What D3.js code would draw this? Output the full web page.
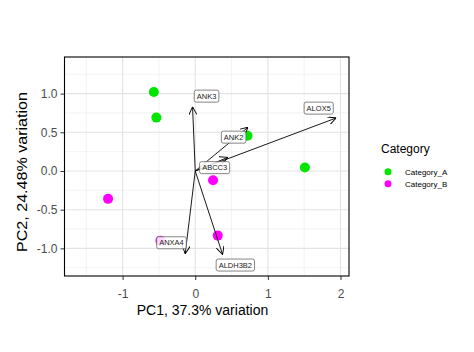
<!DOCTYPE html>
<html>
<head>
  <meta charset="utf-8">
  <script src="https://d3js.org/d3.v7.min.js"></script>
  <style>
    body { margin: 0; background: #fff; }
    text { font-family: "Liberation Sans", Arial, sans-serif; }
  </style>
</head>
<body>
  <div id="container"></div>
  <script>
    // sample scores
    var category = ['Category_A', 'Category_A', 'Category_A', 'Category_A',
                    'Category_B', 'Category_B', 'Category_B', 'Category_B'];
    var pc1 = [-0.57, -0.535, 0.72, 1.51, -1.2, 0.245, -0.48, 0.31];
    var pc2 = [1.02, 0.69, 0.455, 0.045, -0.36, -0.12, -0.9, -0.835];

    // loadings
    var genes = ['ANK3', 'ALOX5', 'ANK2', 'ABCC3', 'ANXA4', 'ALDH3B2'];
    var loadX = [-0.037, 1.94, 0.727, 0.45, -0.138, 0.377];
    var loadY = [0.83, 0.685, 0.565, 0.177, -1.07, -1.08];
    // where the repelled labels ended up (data units)
    var labelX = [0.156, 1.70, 0.529, 0.267, -0.327, 0.552];
    var labelY = [0.969, 0.814, 0.439, 0.045, -0.926, -1.214];

    var xTicks = [-1, 0, 1, 2];
    var yTicks = [-1, -0.5, 0, 0.5, 1];
    var legendCats = ['Category_A', 'Category_B'];
    var colours = ['#00e600', '#ff00ff'];

    var W = 474, H = 352;
    var margin = {top: 57, right: 125, bottom: 76, left: 64.5};
    var width = W - margin.left - margin.right,
        height = H - margin.top - margin.bottom;

    var svg = d3.select('#container').append('svg')
      .attr('width', W).attr('height', H);

    var x = d3.scaleLinear().domain([-1.80, 2.117]).range([0, width]);
    var y = d3.scaleLinear().domain([-1.357, 1.473]).range([height, 0]);
    var colour = d3.scaleOrdinal().domain(legendCats).range(colours);
    var hy = s => s.replace('\u2212', '-');

    var g = svg.append('g').attr('transform', `translate(${margin.left},${margin.top})`);

    // minor grid
    var xMinor = [-1.5, -0.5, 0.5, 1.5];
    var yMinor = [-1.25, -0.75, -0.25, 0.25, 0.75, 1.25];
    g.selectAll('.xminor').data(xMinor).enter().append('line')
      .attr('x1', d => x(d)).attr('x2', d => x(d)).attr('y1', 0).attr('y2', height)
      .attr('stroke', '#ebebeb').attr('stroke-width', 0.6);
    g.selectAll('.yminor').data(yMinor).enter().append('line')
      .attr('y1', d => y(d)).attr('y2', d => y(d)).attr('x1', 0).attr('x2', width)
      .attr('stroke', '#ebebeb').attr('stroke-width', 0.6);
    // major grid
    g.selectAll('.xmajor').data(xTicks).enter().append('line')
      .attr('x1', d => x(d)).attr('x2', d => x(d)).attr('y1', 0).attr('y2', height)
      .attr('stroke', '#e3e3e3').attr('stroke-width', 1.1);
    g.selectAll('.ymajor').data(yTicks).enter().append('line')
      .attr('y1', d => y(d)).attr('y2', d => y(d)).attr('x1', 0).attr('x2', width)
      .attr('stroke', '#e3e3e3').attr('stroke-width', 1.1);

    // axes
    var xAxis = g.append('g').attr('transform', `translate(0,${height})`)
      .call(d3.axisBottom(x).tickValues(xTicks).tickSize(4).tickPadding(9)
        .tickFormat(d => hy(d3.format('d')(d))));
    var yAxis = g.append('g')
      .call(d3.axisLeft(y).tickValues(yTicks).tickSize(4).tickPadding(3)
        .tickFormat(d => hy(d3.format('.1f')(d))));
    [xAxis, yAxis].forEach(function (a) {
      a.select('.domain').remove();
      a.selectAll('line').attr('stroke', '#333');
      a.selectAll('text').attr('fill', '#4d4d4d').style('font-size', '12px')
        .style('font-family', '"Liberation Sans", Arial, sans-serif');
    });

    // points
    g.selectAll('.pt').data(pc1).enter().append('circle')
      .attr('cx', d => x(d)).attr('cy', (d, i) => y(pc2[i]))
      .attr('r', 5).attr('fill', (d, i) => colour(category[i]));

    // arrows
    svg.append('defs').append('marker')
      .attr('id', 'arr').attr('viewBox', '0 0 10 10')
      .attr('refX', 10).attr('refY', 5)
      .attr('markerWidth', 8).attr('markerHeight', 8)
      .attr('markerUnits', 'userSpaceOnUse')
      .attr('orient', 'auto')
      .append('path').attr('d', 'M0,0 L10,5 L0,10')
      .attr('fill', 'none').attr('stroke', 'black').attr('stroke-width', 1.2);

    g.selectAll('.arrow').data(genes).enter().append('line')
      .attr('x1', x(0)).attr('y1', y(0))
      .attr('x2', (d, i) => x(loadX[i])).attr('y2', (d, i) => y(loadY[i]))
      .attr('stroke', 'black').attr('stroke-width', 0.9)
      .attr('marker-end', 'url(#arr)');

    // labels
    var lab = g.selectAll('.lab').data(genes).enter().append('g')
      .attr('transform', (d, i) => `translate(${x(labelX[i])},${y(labelY[i])})`);
    lab.append('text')
      .attr('text-anchor', 'middle').attr('dy', '0.35em')
      .style('font-size', '7.5px').attr('fill', '#222')
      .text(d => d);
    lab.each(function () {
      var t = d3.select(this).select('text').node().getBBox();
      d3.select(this).insert('rect', 'text')
        .attr('x', t.x - 2.5).attr('y', t.y - 1.5)
        .attr('width', t.width + 5).attr('height', t.height + 3)
        .attr('rx', 2).attr('fill', 'white').attr('fill-opacity', 0.85)
        .attr('stroke', '#666').attr('stroke-width', 0.8);
    });

    // panel border
    g.append('rect').attr('width', width).attr('height', height)
      .attr('fill', 'none').attr('stroke', 'black').attr('stroke-width', 1.1);

    // axis titles
    svg.append('text')
      .attr('x', 202.5).attr('y', 315)
      .attr('text-anchor', 'middle').style('font-size', '14px')
      .text('PC1, 37.3% variation');
    svg.append('text')
      .attr('transform', 'translate(27,172) rotate(-90)')
      .attr('text-anchor', 'middle').style('font-size', '14px')
      .attr('textLength', 160).attr('lengthAdjust', 'spacingAndGlyphs')
      .text('PC2, 24.48% variation');

    // legend
    var leg = svg.append('g').attr('transform', 'translate(381,0)');
    leg.append('text').attr('x', 0).attr('y', 153).style('font-size', '12px').text('Category');
    var items = leg.selectAll('.item').data(legendCats).enter().append('g')
      .attr('transform', (d, i) => `translate(0,${171.7 + i * 12})`);
    items.append('circle').attr('cx', 7).attr('cy', 0).attr('r', 3.5).attr('fill', d => colour(d));
    items.append('text').attr('x', 24).attr('dy', '0.35em').style('font-size', '8px').text(d => d);
  </script>
</body>
</html>
